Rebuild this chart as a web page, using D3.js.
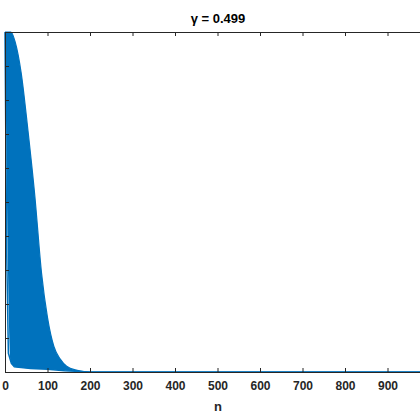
<!DOCTYPE html><html><head><meta charset="utf-8">
<script src="https://cdn.jsdelivr.net/npm/d3@7"></script>
<style>body{margin:0;background:#fff}svg{display:block}text{font-family:"Liberation Sans",Arial,sans-serif}</style>
</head><body><svg width="420" height="420"></svg><script>
const upperN   = [0, 14, 24, 38, 54, 70, 86, 100, 115, 130, 145, 170, 200, 1000];
const upperVal = [1.0, 1.0, 0.97, 0.88, 0.71, 0.52, 0.29, 0.16, 0.075, 0.038, 0.017, 0.005, 0, 0];
const lowerN   = [0, 4, 8, 15, 22, 60, 100, 140, 200, 1000];
const lowerVal = [1.0, 0.35, 0.055, 0.025, 0.015, 0.01, 0.008, 0.004, 0, 0];
const xTicks = [0,100,200,300,400,500,600,700,800,900,1000];
const xTickLabels = ["0","100","200","300","400","500","600","700","800","900",""];
const yTicks = [0,0.1,0.2,0.3,0.4,0.5,0.6,0.7,0.8,0.9,1];
const title = "γ = 0.499", xLabel = "n";

const svg = d3.select("svg");
const x = d3.scaleLinear().domain([0,1000]).range([5,430]);
const y = d3.scaleLinear().domain([0,1]).range([372,32]);
const c = "#0072BD";
const up = upperN.map((n,i)=>[n,upperVal[i]]);
const lowInterp = d3.scaleLinear().domain(lowerN).range(lowerVal);
const g = svg.append("g");
g.append("path").datum(up)
 .attr("d", d3.area().x(d=>x(d[0])).y0(d=>y(Math.min(d[1],lowInterp(d[0])))).y1(d=>y(d[1])).curve(d3.curveMonotoneX))
 .attr("fill",c);
g.append("path").datum(up).attr("fill","none").attr("stroke",c).attr("stroke-width",1.2)
 .attr("d", d3.line().x(d=>x(d[0])).y(d=>y(d[1])).curve(d3.curveMonotoneX));
g.append("path").datum(lowerN.map((n,i)=>[n,lowerVal[i]])).attr("fill","none").attr("stroke",c).attr("stroke-width",1.5)
 .attr("d", d3.line().x(d=>x(d[0])).y(d=>y(d[1])));

const ax = svg.append("g").attr("transform","translate(0,372)")
 .call(d3.axisBottom(x).tickValues(xTicks).tickSize(-4).tickPadding(9).tickFormat((d,i)=>xTickLabels[i]));
const axT = svg.append("g").attr("transform","translate(0,32)")
 .call(d3.axisTop(x).tickValues(xTicks).tickSize(-4).tickFormat(""));
const ay = svg.append("g").attr("transform","translate(5,0)")
 .call(d3.axisLeft(y).tickValues(yTicks).tickSize(-4).tickFormat(""));
[ax,axT,ay].forEach(a=>{a.selectAll("path,line").attr("stroke","#262626");a.select(".domain").attr("stroke-width",1);});
ax.selectAll("text").attr("font-size",12).attr("font-weight","bold").attr("fill","#262626");
svg.append("text").attr("x",218).attr("y",411).attr("text-anchor","middle").attr("font-size",13).attr("font-weight","bold").attr("fill","#262626").text(xLabel);
svg.append("text").attr("x",218).attr("y",23).attr("text-anchor","middle").attr("font-size",13).attr("font-weight","bold").attr("fill","#000").text(title);
</script></body></html>
